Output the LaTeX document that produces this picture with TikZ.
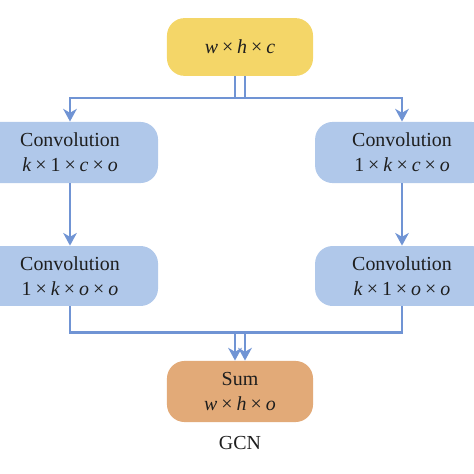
\documentclass[tikz,border=0pt]{standalone}
\usepackage{fontspec}
\setmainfont{Liberation Serif}
\usepackage{xcolor}
\usepackage{tikz}
\usetikzlibrary{arrows.meta,positioning,calc}
\definecolor{clrIn}{RGB}{244,214,104}
\definecolor{clrConv}{RGB}{176,200,234}
\definecolor{clrSum}{RGB}{226,170,120}
\definecolor{clrLink}{RGB}{112,148,212}
\definecolor{clrTxt}{RGB}{30,30,30}
\newcommand{\tm}{\hspace{0.2em}×\hspace{0.2em}}
\newcommand{\vr}[1]{\textit{#1}}

\begin{document}
\begin{tikzpicture}[x=0.018cm,y=-0.018cm,font=\fontsize{10.2}{13}\selectfont,text=clrTxt,
  blockbox/.style={rounded corners=9pt,inner sep=0pt,align=center},
  link/.style={clrLink,line width=1.1pt,-{Stealth[length=6.5pt,width=7pt,inset=2pt]}}]
  \clip (0,0) rectangle (474,474);

  % input and output boxes
  \node[blockbox,fill=clrIn,minimum width=2.63cm,minimum height=1.04cm] (inp) at (240,47) {\vr{w}\tm\vr{h}\tm\vr{c}};
  \node[blockbox,fill=clrSum,minimum width=2.63cm,minimum height=1.10cm] (sum) at (240,391.5) {Sum\\\vr{w}\tm\vr{h}\tm\vr{o}};

  % convolution branches
  \node[blockbox,fill=clrConv,minimum width=3.17cm,minimum height=1.10cm] (convLa) at (70,152.5) {Convolution\\\vr{k}\tm1\tm\vr{c}\tm\vr{o}};
  \node[blockbox,fill=clrConv,minimum width=3.17cm,minimum height=1.08cm] (convLb) at (70,276) {Convolution\\1\tm\vr{k}\tm\vr{o}\tm\vr{o}};
  \node[blockbox,fill=clrConv,minimum width=3.13cm,minimum height=1.10cm] (convRa) at (402,152.5) {Convolution\\1\tm\vr{k}\tm\vr{c}\tm\vr{o}};
  \node[blockbox,fill=clrConv,minimum width=3.13cm,minimum height=1.08cm] (convRb) at (402,276) {Convolution\\\vr{k}\tm1\tm\vr{o}\tm\vr{o}};

  \node (cap) at (240,443) {GCN};

  % split
  \draw[link] ($(inp.south)+(5,0)$) -- ++(0,22) -| (convLa.north);
  \draw[link] ($(inp.south)+(-5,0)$) -- ++(0,22) -| (convRa.north);
  \draw[link] (convLa) -- (convLb);
  \draw[link] (convRa) -- (convRb);

  % merge
  \draw[link] (convLb.south) |- ($(sum.north)+(5,-28)$) -- ($(sum.north)+(5,0)$);
  \draw[link] (convRb.south) |- ($(sum.north)+(-5,-28)$) -- ($(sum.north)+(-5,0)$);
\end{tikzpicture}
\end{document}
